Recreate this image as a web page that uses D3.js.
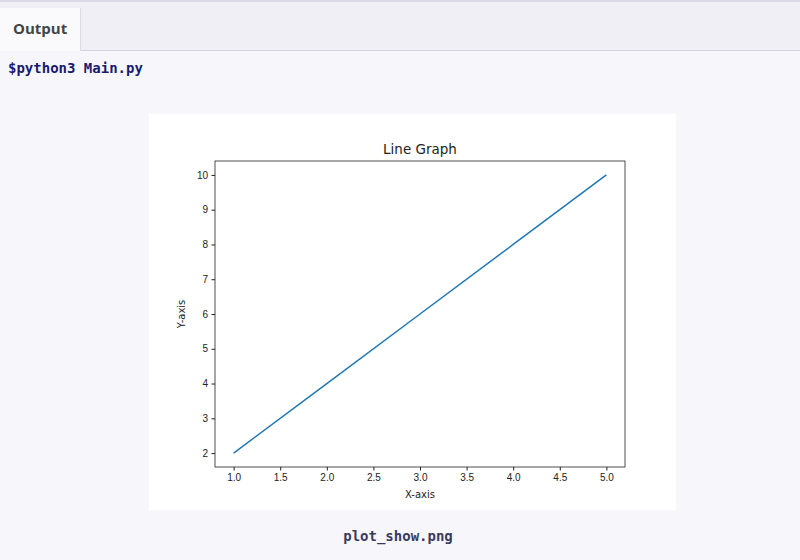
<!DOCTYPE html>
<html><head><meta charset="utf-8">
<script src="https://cdn.jsdelivr.net/npm/d3@7"></script>
<style>
body{margin:0;width:800px;height:560px;background:#f7f7fb;font-family:"DejaVu Sans",sans-serif;overflow:hidden;position:relative}
#top{position:absolute;left:0;top:0;width:800px;height:48px;background:#efeff5;border-top:2px solid #d8d8e6;border-bottom:1px solid #d4d4de}
#tab{position:absolute;left:0;top:6px;width:80px;height:43px;background:#fafafc;border-right:1px solid #ddd;font:bold 15px "Open Sans",sans-serif;color:#444;line-height:40px;text-indent:13px}
#cmd{position:absolute;left:8px;top:60px;font:bold 14px "DejaVu Sans Mono",monospace;color:#1a1a6e}
#cap{position:absolute;left:0;width:796px;top:528px;text-align:center;font:bold 14px "DejaVu Sans Mono",monospace;color:#3a3a5e}
svg{position:absolute;left:149px;top:114px}
</style></head><body>
<div id="top"><div id="tab">Output</div></div>
<div id="cmd">$python3 Main.py</div>
<svg id="chart" width="527" height="396"></svg>
<div id="cap">plot_show.png</div>
<script>
const xs = [1, 2, 3, 4, 5];
const ys = [2, 4, 6, 8, 10];
const xTicks = [1.0, 1.5, 2.0, 2.5, 3.0, 3.5, 4.0, 4.5, 5.0];
const yTicks = [2, 3, 4, 5, 6, 7, 8, 9, 10];

const svg = d3.select("#chart");
svg.append("rect").attr("width", 527).attr("height", 396).attr("fill", "#fff");
const L = 66, R = 476, T = 47, B = 353;
const x = d3.scaleLinear().domain([0.8, 5.2]).range([L, R]);
const y = d3.scaleLinear().domain([1.6, 10.4]).range([B, T]);
const g = svg.append("g").style("font-family", "DejaVu Sans").style("font-size", "10px");

const xa = g.append("g").attr("transform", `translate(0,${B})`)
  .call(d3.axisBottom(x).tickValues(xTicks).tickFormat(d3.format(".1f")).tickSize(3.5).tickPadding(3.5));
const ya = g.append("g").attr("transform", `translate(${L},0)`)
  .call(d3.axisLeft(y).tickValues(yTicks).tickFormat(d3.format("d")).tickSize(3.5).tickPadding(3.5));
[xa, ya].forEach(a => { a.select(".domain").remove(); a.selectAll("text").attr("fill", "#222").style("font-size", "10px"); a.selectAll("line").attr("stroke", "#222"); });

g.append("path").datum(xs.map((d, i) => [d, ys[i]]))
  .attr("d", d3.line().x(d => x(d[0])).y(d => y(d[1])))
  .attr("fill", "none").attr("stroke", "#1f77b4").attr("stroke-width", 1.5);
g.append("rect").attr("x", L).attr("y", T).attr("width", R - L).attr("height", B - T)
  .attr("fill", "none").attr("stroke", "#222").attr("stroke-width", 0.8);

g.append("text").attr("x", (L + R) / 2).attr("y", T - 7).attr("text-anchor", "middle").style("font-size", "13.5px").attr("fill", "#222").text("Line Graph");
g.append("text").attr("x", (L + R) / 2).attr("y", B + 31).attr("text-anchor", "middle").attr("fill", "#222").text("X-axis");
g.append("text").attr("transform", `translate(${L - 30},${(T + B) / 2}) rotate(-90)`).attr("text-anchor", "middle").attr("fill", "#222").text("Y-axis");
</script>
</body></html>
